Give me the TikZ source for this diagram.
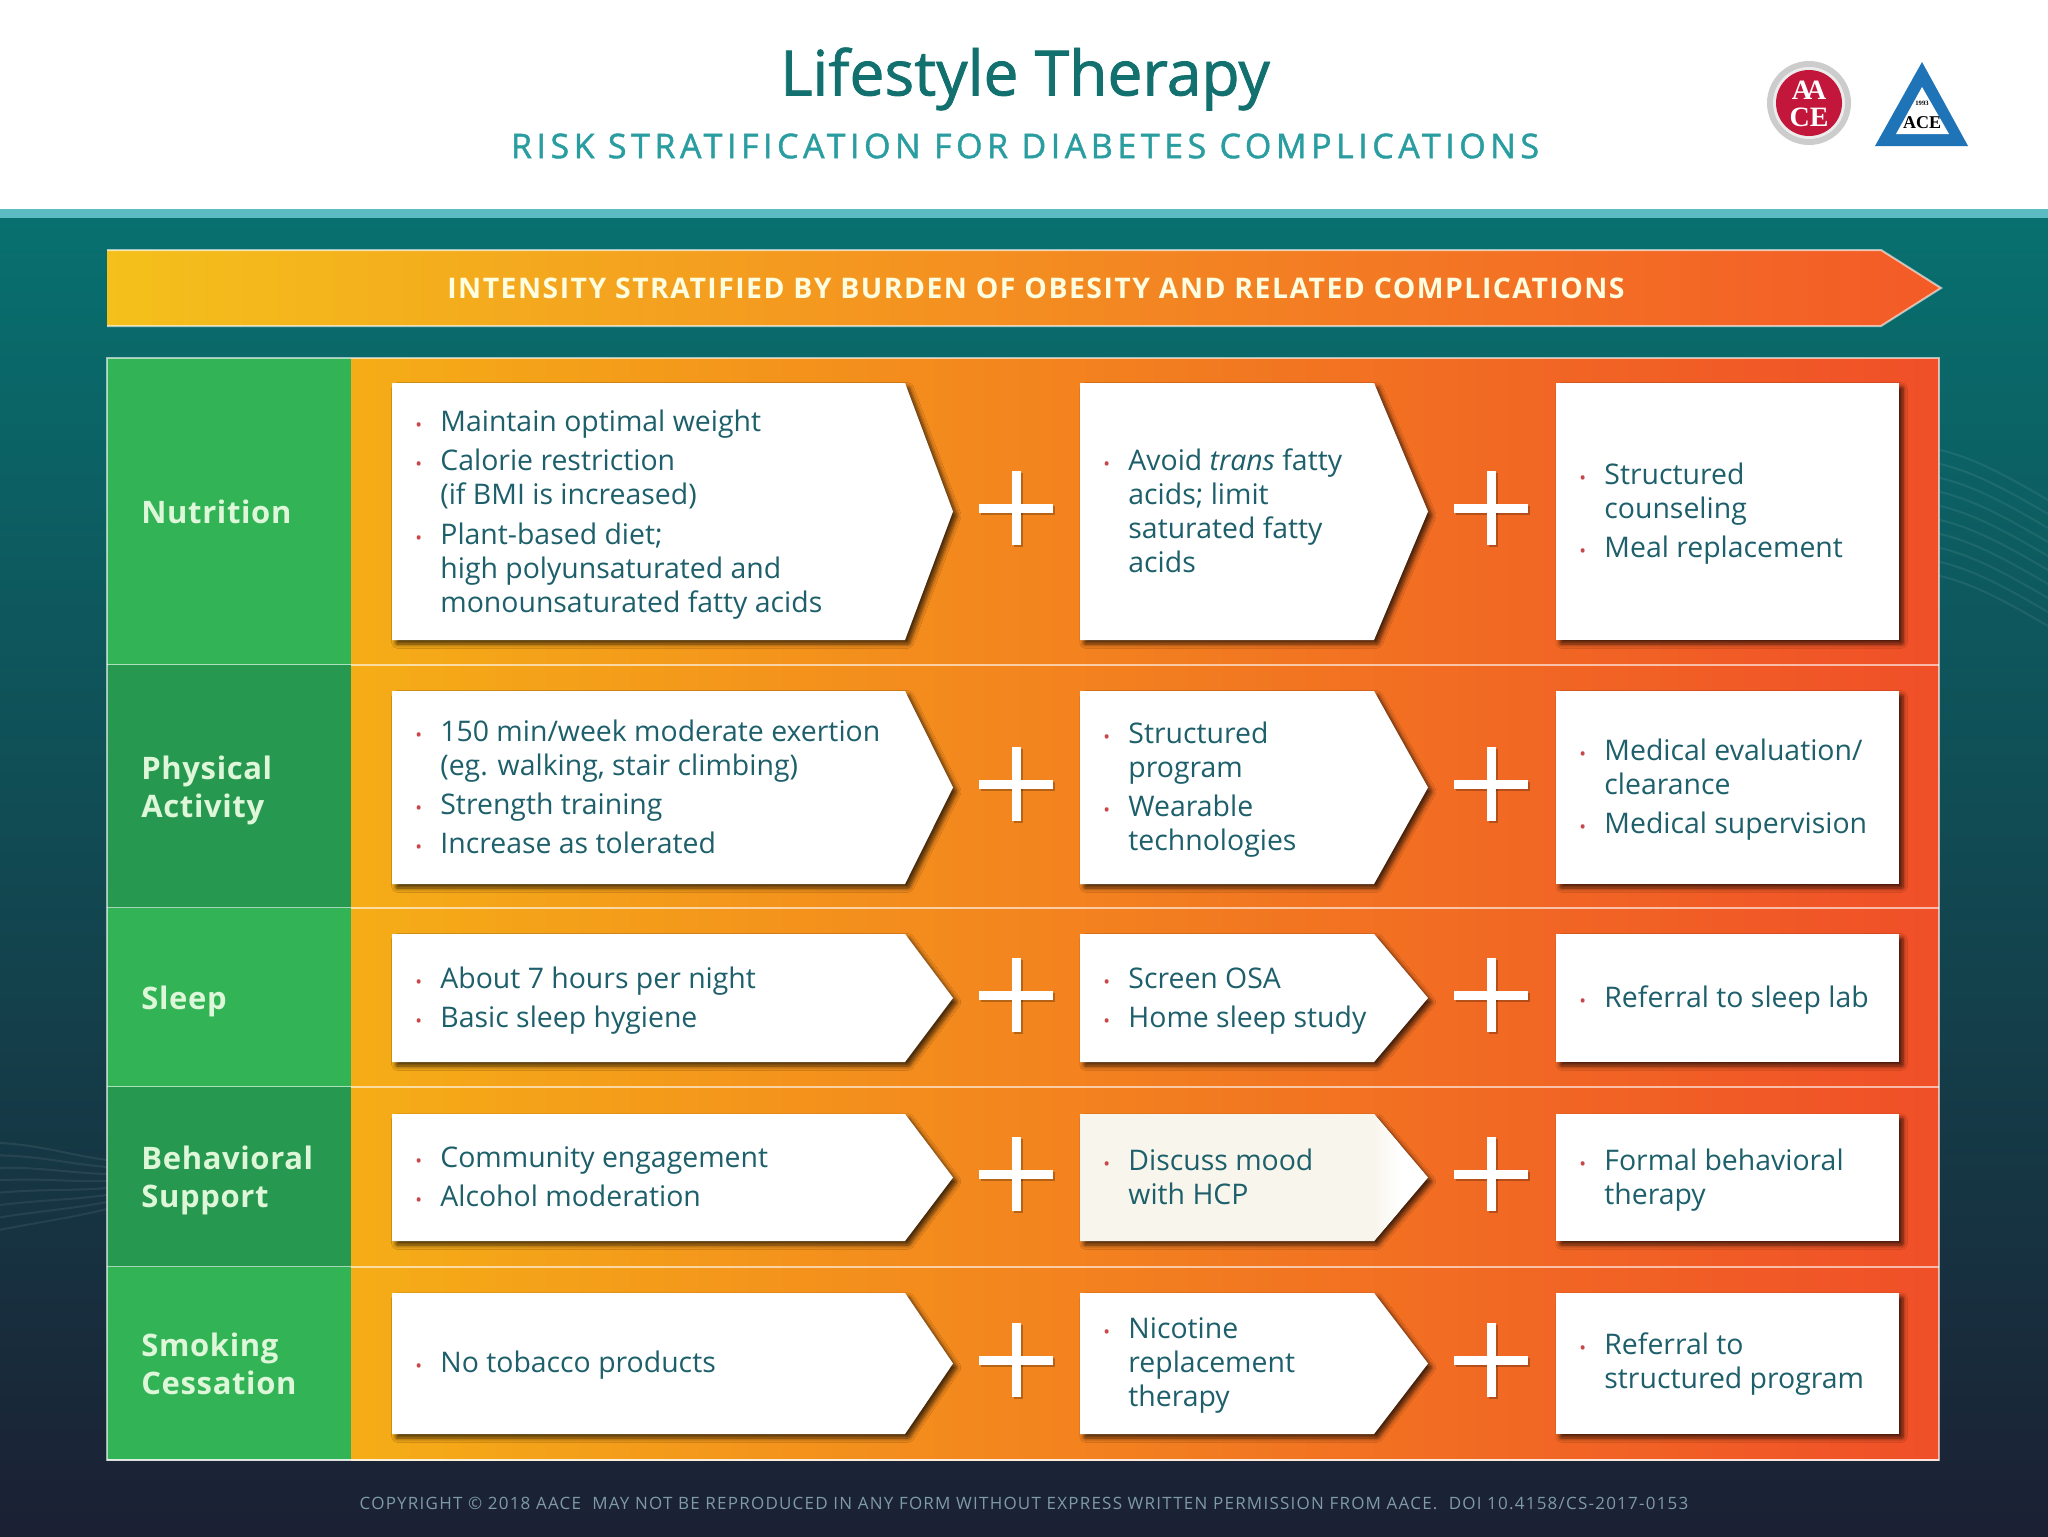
\documentclass[tikz,border=0pt]{standalone}
\usepackage{fontspec}
\setmainfont{Open Sans}
\newfontfamily\semifont[FakeBold=1.3]{Open Sans}
\newfontfamily\sealfont{Liberation Serif}
\usetikzlibrary{shadows,shadows.blur}
\definecolor{titleteal}{HTML}{12706F}
\definecolor{subteal}{HTML}{2A9DA0}
\definecolor{bandteal}{HTML}{5BBCC4}
\definecolor{bgtop}{HTML}{08706F}
\definecolor{bgmid}{HTML}{0F4F5D}
\definecolor{bgbot}{HTML}{1B2033}
\definecolor{arrowl}{HTML}{F4C01B}
\definecolor{arrowm}{HTML}{F8971A}
\definecolor{arrowr}{HTML}{F35A27}
\definecolor{mainl}{HTML}{F5AD17}
\definecolor{mainm}{HTML}{F8891B}
\definecolor{mainr}{HTML}{F04F28}
\definecolor{greenlight}{HTML}{31B356}
\definecolor{greendark}{HTML}{27984F}
\definecolor{labeltext}{HTML}{DDF7D8}
\definecolor{bodytext}{HTML}{1D5F6A}
\definecolor{bulletred}{HTML}{C8474A}
\definecolor{sealred}{HTML}{C2173A}
\definecolor{triblue}{HTML}{1F74B8}
\definecolor{moodtint}{HTML}{F8F5EC}
\definecolor{footertext}{HTML}{7F9AA8}
\newcommand{\bul}{\makebox[12.5pt][l]{\textcolor{bulletred}{\small•}}}
\newcommand{\cont}{\hspace*{12.5pt}}
\tikzset{
    labelnode/.style={anchor=west,inner sep=0pt,align=left,text=labeltext,font=\fontsize{15.5}{19}\selectfont\bfseries\addfontfeature{LetterSpace=2}},
    cellnode/.style={anchor=west,inner sep=0pt,align=left,text=bodytext,font=\fontsize{14.2}{17}\selectfont},
    cellshadow/.style={blur shadow={shadow xshift=2pt,shadow yshift=-2pt,shadow blur steps=6,shadow blur extra rounding=0.5pt,shadow opacity=70}},
    plusline/.style={white,line width=4.5pt},
    tableline/.style={white,opacity=0.6,line width=1pt},
    waveline/.style={white,opacity=0.07,line width=1pt}
}
\begin{document}
\begin{tikzpicture}[x=0.5pt,y=-0.5pt]
    \useasboundingbox (0,0) rectangle (2048,1536);
    % background
    \fill[white] (0,0) rectangle (2048,209);
    \fill[bandteal] (0,209) rectangle (2048,218);
    \shade[top color=bgtop,middle color=bgmid,bottom color=bgbot] (0,218) rectangle (2048,1536);
    \foreach \k in {0,...,7} {
        \draw[waveline] (0,1143+\k*12.4) .. controls (40,1145+\k*11) and (70,1155+\k*9) .. (107,1160+\k*7);
    }
    \foreach \k in {0,...,9} {
        \draw[waveline] (1940,450+\k*14) .. controls (1975,458+\k*14) and (2010,478+\k*14) .. (2048,500+\k*14);
    }
    % header
    \node[text=titleteal,font=\fontsize{31.2}{36}\semifont] (title) at (1025,79) {Lifestyle Therapy};
    \node[text=subteal,font=\fontsize{17}{20}\semifont\addfontfeature{LetterSpace=13.3}] (subtitle) at (1025,146) {RISK STRATIFICATION FOR DIABETES COMPLICATIONS};
    % logos
    \fill[gray!40] (1809,103) circle (42);
    \fill[white!85!gray] (1809,103) circle (36);
    \fill[sealred] (1809,103) circle (33);
    \node[text=white,font=\fontsize{14}{13.5}\sealfont\bfseries,align=center,inner sep=0pt] (seal) at (1809,104) {A\kern-3pt A\\CE};
    \fill[triblue] (1922,62) -- (1968,146) -- (1875,146) -- cycle;
    \fill[white] (1922,87) -- (1949,134) -- (1896,134) -- cycle;
    \node[text=black,font=\fontsize{3.3}{4}\sealfont\bfseries,inner sep=0pt] (aceyear) at (1922,103) {1993};
    \node[text=black,font=\fontsize{9}{10}\sealfont\bfseries,inner sep=0pt] (ace) at (1922,123) {ACE};
    % top arrow
    \shade[left color=arrowl,middle color=arrowm,right color=arrowr] (107,250) -- (1881,250) -- (1941,288) -- (1881,326) -- (107,326) -- cycle;
    \draw[tableline] (107,250) -- (1881,250) -- (1941,288) -- (1881,326) -- (107,326);
    \node[text=white!88!yellow,font=\fontsize{14.2}{17}\selectfont\bfseries\addfontfeature{LetterSpace=5.2}] (intensity) at (1036,288) {INTENSITY STRATIFIED BY BURDEN OF OBESITY AND RELATED COMPLICATIONS};
    % table
    \shade[left color=mainl,middle color=mainm,right color=mainr] (351,358) rectangle (1939,1460);
    \foreach \ytop/\ybot/\fillc in {358/665/greenlight,665/908/greendark,908/1087/greenlight,1087/1267/greendark,1267/1460/greenlight} {
        \fill[\fillc] (107,\ytop) rectangle (351,\ybot);
        \draw[tableline] (107,\ybot) -- (1939,\ybot);
    }
    \draw[tableline] (107,358) rectangle (1939,1460);
    % cells and plus signs
    \foreach \ytop/\ybot/\yplus in {383/640/508,691/884/784,934/1062/995,1114/1241/1174,1293/1434/1360} {
        \fill[white,cellshadow] (392,\ytop) -- (905,\ytop) -- (953,{(\ytop+\ybot)/2}) -- (905,\ybot) -- (392,\ybot) -- cycle;
        \fill[white,cellshadow] (1080,\ytop) -- (1374,\ytop) -- (1428,{(\ytop+\ybot)/2}) -- (1374,\ybot) -- (1080,\ybot) -- cycle;
        \fill[white,cellshadow] (1556,\ytop) rectangle (1899,\ybot);
        \foreach \xplus in {1016,1491} {
            \draw[plusline,black,opacity=0.25,xshift=1.2pt,yshift=-1.2pt] (\xplus-37,\yplus) -- (\xplus+37,\yplus);
            \draw[plusline,black,opacity=0.25,xshift=1.2pt,yshift=-1.2pt] (\xplus,\yplus-37) -- (\xplus,\yplus+37);
            \draw[plusline] (\xplus-37,\yplus) -- (\xplus+37,\yplus);
            \draw[plusline] (\xplus,\yplus-37) -- (\xplus,\yplus+37);
        }
    }
    \fill[moodtint] (1080,1114) rectangle (1374,1241);
    \shade[left color=moodtint,right color=white] (1374,1114) -- (1400,1144.6) -- (1400,1210.4) -- (1374,1241) -- cycle;
    % row labels
    \node[labelnode] (nutrition) at (141,512) {Nutrition};
    \node[labelnode] (activity) at (141,790) {Physical\\Activity};
    \node[labelnode] (sleep) at (141,1001) {Sleep};
    \node[labelnode] (behavioral) at (141,1180) {Behavioral\\Support};
    \node[labelnode] (smoking) at (141,1364) {Smoking\\Cessation};
    % row one
    \node[cellnode] (nutritionA) at (415,514.5) {\bul Maintain optimal weight\\[2.6pt]\bul Calorie restriction\\\cont (if BMI is increased)\\[2.6pt]\bul Plant-based diet;\\\cont high polyunsaturated and\\\cont monounsaturated fatty acids};
    \node[cellnode] (nutritionB) at (1103,511) {\bul Avoid \textit{trans} fatty\\\cont acids; limit\\\cont saturated fatty\\\cont acids};
    \node[cellnode] (nutritionC) at (1579,514) {\bul Structured\\\cont counseling\\[2.6pt]\bul Meal replacement};
    % row two
    \node[cellnode] (activityA) at (415,787) {\bul 150 min/week moderate exertion\\\cont (eg. walking, stair climbing)\\[2.6pt]\bul Strength training\\[2.6pt]\bul Increase as tolerated};
    \node[cellnode] (activityB) at (1103,790) {\bul Structured\\\cont program\\[2.6pt]\bul Wearable\\\cont technologies};
    \node[cellnode] (activityC) at (1579,790) {\bul Medical evaluation/\\\cont clearance\\[2.6pt]\bul Medical supervision};
    % row three
    \node[cellnode] (sleepA) at (415,1001) {\bul About 7 hours per night\\[2.6pt]\bul Basic sleep hygiene};
    \node[cellnode] (sleepB) at (1103,1001) {\bul Screen OSA\\[2.6pt]\bul Home sleep study};
    \node[cellnode] (sleepC) at (1579,1000) {\bul Referral to sleep lab};
    % row four
    \node[cellnode] (behavioralA) at (415,1177) {\bul Community engagement\\[2.6pt]\bul Alcohol moderation};
    \node[cellnode] (behavioralB) at (1103,1177) {\bul Discuss mood\\\cont with HCP};
    \node[cellnode] (behavioralC) at (1579,1180) {\bul Formal behavioral\\\cont therapy};
    % row five
    \node[cellnode] (smokingA) at (415,1365) {\bul No tobacco products};
    \node[cellnode] (smokingB) at (1103,1365) {\bul Nicotine\\\cont replacement\\\cont therapy};
    \node[cellnode] (smokingC) at (1579,1364) {\bul Referral to\\\cont structured program};
    % footer
    \node[text=footertext,font=\fontsize{8.5}{10}\selectfont\addfontfeature{LetterSpace=7.2}] (copyright) at (1024,1503) {COPYRIGHT © 2018 AACE\ \ MAY NOT BE REPRODUCED IN ANY FORM WITHOUT EXPRESS WRITTEN PERMISSION FROM AACE.\ \ DOI 10.4158/CS-2017-0153};
\end{tikzpicture}
\end{document}
